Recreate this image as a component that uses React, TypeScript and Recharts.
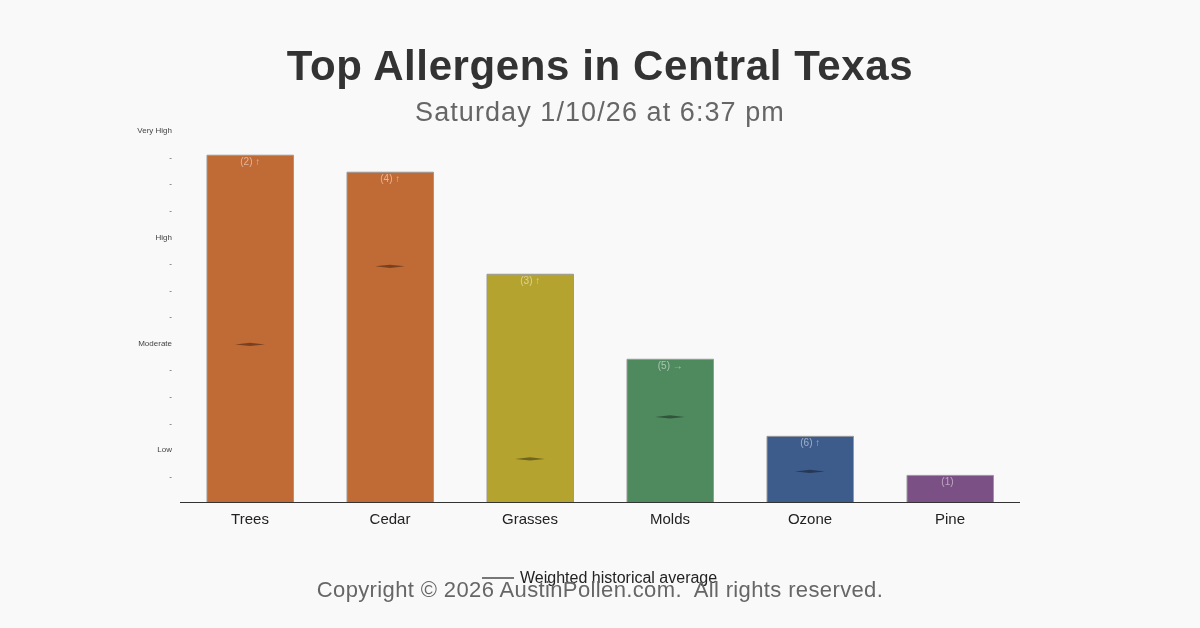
import React from 'react';
import { ComposedChart, Bar, Line, Cell, XAxis, YAxis, LabelList, Legend } from 'recharts';

const categories = ['Trees', 'Cedar', 'Grasses', 'Molds', 'Ozone', 'Pine'];
const levels = [13.07, 12.43, 8.59, 5.39, 2.49, 1.02];
const historical = [5.95, 8.89, 1.64, 3.22, 1.17, null];
// Pine has no trend arrow, the nbsp keeps its label off-centre like the others
const rankLabels = ['(2) ↑', '(4) ↑', '(3) ↑', '(5) →', '(6) ↑', '(1)\u00a0\u00a0'];
const barColors = ['#c06a36', '#c06a36', '#b5a32f', '#4f8a5f', '#3d5c8c', '#7a5085'];

const yTicks = [0, 1, 2, 3, 4, 5, 6, 7, 8, 9, 10, 11, 12, 13, 14];
const yTickLabels = ['', '-', 'Low', '-', '-', '-', 'Moderate', '-', '-', '-', 'High', '-', '-', '-', 'Very High'];

const chartData = categories.map((name, i) => ({
  name,
  level: levels[i],
  historical: historical[i],
  rank: rankLabels[i],
}));

const FONT = '"Liberation Sans", Arial, sans-serif';

// thin tapered marker for the historical average
const AverageMark = ({ cx, cy, index }: any) => {
  if (cy == null || historical[index] == null) return <g key={index} />;
  return (
    <path
      key={index}
      d={`M${cx - 15},${cy} L${cx},${cy - 1.6} L${cx + 15},${cy} L${cx},${cy + 1.6} Z`}
      fill="#000"
      fillOpacity={0.38}
    />
  );
};

const LegendLine = () => (
  <div style={{ display: 'flex', alignItems: 'center', fontFamily: FONT, fontSize: 16, color: '#222', lineHeight: '18px' }}>
    <span style={{ display: 'inline-block', width: 32, height: 2, background: '#777', marginRight: 6 }} />
    Weighted historical average
  </div>
);

export default function App() {
  const textBase: React.CSSProperties = {
    position: 'absolute',
    left: 0,
    width: 1200,
    textAlign: 'center',
    fontFamily: FONT,
    whiteSpace: 'pre',
  };
  return (
    <div style={{ position: 'absolute', left: 0, top: 0, width: 1200, height: 628, background: '#f9f9f9', overflow: 'hidden' }}>
      <div style={{ position: 'absolute', left: 0, top: 0, width: 1200, height: 628, willChange: 'transform' }}>
        <div style={{ ...textBase, top: 39, fontSize: 42, fontWeight: 700, color: '#333', letterSpacing: 0.6, lineHeight: '54px' }}>
          Top Allergens in Central Texas
        </div>
        <div style={{ ...textBase, top: 94, fontSize: 27, color: '#666', letterSpacing: 1.08, lineHeight: '36px' }}>
          Saturday 1/10/26 at 6:37 pm
        </div>
        <ComposedChart
          width={1200}
          height={628}
          data={chartData}
          margin={{ top: 130.5, right: 180, bottom: 0, left: 0 }}
          style={{ position: 'absolute', left: 0, top: 0 }}
        >
          <XAxis
            dataKey="name"
            height={107.5}
            tickLine={false}
            axisLine={{ stroke: '#333', strokeWidth: 1 }}
            tickMargin={5}
            tick={{ fontSize: 15, fill: '#222', fontFamily: FONT }}
          />
          <YAxis
            width={180}
            domain={[0, 14]}
            ticks={yTicks}
            interval={0}
            axisLine={false}
            tickLine={false}
            tickMargin={2}
            tick={{ fontSize: 8, fill: '#444', fontFamily: FONT }}
            tickFormatter={(v: number) => yTickLabels[v]}
          />
          <Bar dataKey="level" barSize={86.5} stroke="#999" strokeWidth={1} isAnimationActive={false} legendType="none">
            {chartData.map((d, i) => (
              <Cell key={d.name} fill={barColors[i]} />
            ))}
            <LabelList
              dataKey="rank"
              position="insideTop"
              offset={3}
              style={{ fontSize: 10, fill: 'rgba(255,255,255,0.5)', fontFamily: FONT }}
            />
          </Bar>
          <Line dataKey="historical" stroke="none" dot={AverageMark} activeDot={false} isAnimationActive={false} connectNulls={false} />
          <Legend
            content={<LegendLine />}
            wrapperStyle={{ position: 'absolute', left: 482, top: 569, bottom: 'auto', width: 'auto' }}
          />
        </ComposedChart>
        <div style={{ ...textBase, top: 576, fontSize: 22, color: '#666', letterSpacing: 0.37, lineHeight: '28px' }}>
          Copyright © 2026 AustinPollen.com.  All rights reserved.
        </div>
      </div>
    </div>
  );
}
